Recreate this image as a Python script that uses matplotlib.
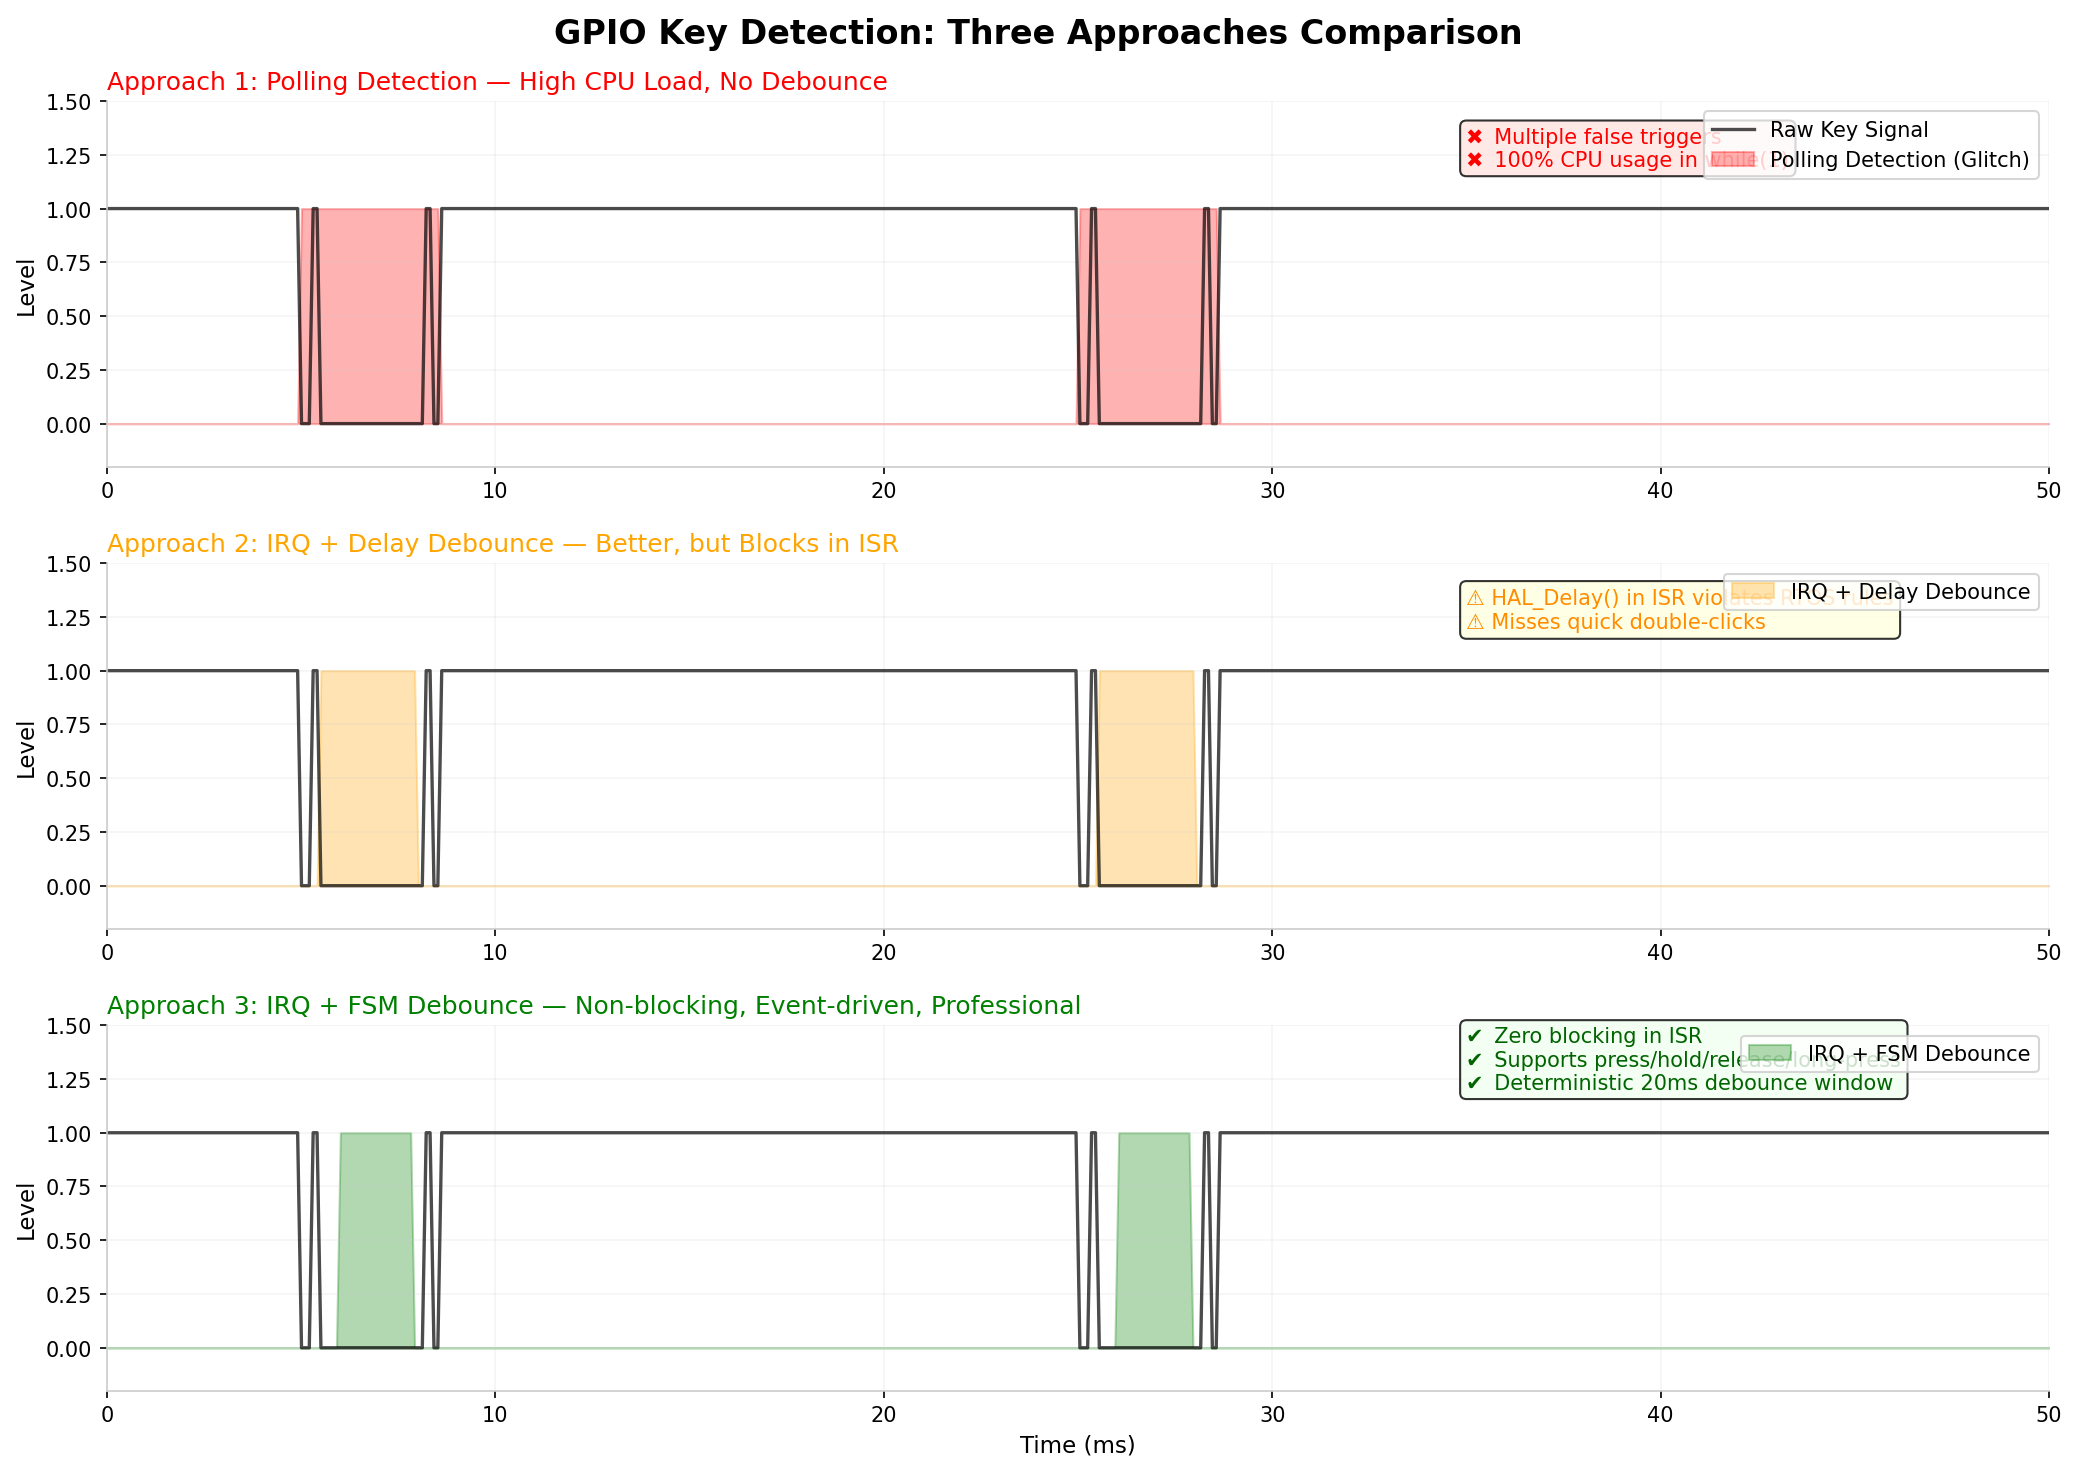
import matplotlib
matplotlib.use('Agg')
import matplotlib.pyplot as plt

# raw key waveform with contact bounce on press and release
time_raw = [0, 4.91, 5.01, 5.21, 5.31, 5.41, 5.51, 8.12, 8.22, 8.32, 8.42, 8.52, 8.62,
            24.95, 25.05, 25.25, 25.35, 25.45, 25.55, 28.16, 28.26, 28.36, 28.46, 28.56, 28.66, 50]
level_raw = [1, 1, 0, 0, 1, 1, 0, 0, 1, 1, 0, 0, 1,
             1, 0, 0, 1, 1, 0, 0, 1, 1, 0, 0, 1, 1]

time_polling = [0, 4.91, 5.01, 8.52, 8.62, 24.95, 25.05, 28.56, 28.66, 50]
level_polling = [0, 0, 1, 1, 0, 0, 1, 1, 0, 0]

time_delay = [0, 5.41, 5.51, 7.92, 8.02, 25.45, 25.55, 27.96, 28.06, 50]
level_delay = [0, 0, 1, 1, 0, 0, 1, 1, 0, 0]

time_fsm = [0, 5.91, 6.01, 7.82, 7.92, 25.95, 26.05, 27.86, 27.96, 50]
level_fsm = [0, 0, 1, 1, 0, 0, 1, 1, 0, 0]

titles = ['Approach 1: Polling Detection — High CPU Load, No Debounce',
          'Approach 2: IRQ + Delay Debounce — Better, but Blocks in ISR',
          'Approach 3: IRQ + FSM Debounce — Non-blocking, Event-driven, Professional']
title_colors = ['red', 'orange', 'green']
fill_labels = ['Polling Detection (Glitch)', 'IRQ + Delay Debounce', 'IRQ + FSM Debounce']
notes = ['✖\u2009 Multiple false triggers\n✖\u2009 100% CPU usage in while(1)',
         '⚠ HAL_Delay() in ISR violates RTOS rules\n⚠ Misses quick double-clicks',
         '✔\u2009 Zero blocking in ISR\n✔\u2009 Supports press/hold/release/long-press\n✔\u2009 Deterministic 20ms debounce window']
note_y = [1.28, 1.28, 1.34]
note_colors = ['red', 'darkorange', 'darkgreen']
note_faces = ['mistyrose', 'lightyellow', 'honeydew']
y_ticks = [0, 0.25, 0.5, 0.75, 1.0, 1.25, 1.5]

fills = [(time_polling, level_polling), (time_delay, level_delay), (time_fsm, level_fsm)]

fig, axes = plt.subplots(3, 1, figsize=(13.84, 9.813), dpi=150)
fig.subplots_adjust(left=0.0515, right=0.987, top=0.9307, bottom=0.0545, hspace=0.264)
fig.suptitle('GPIO Key Detection: Three Approaches Comparison', fontsize=16, fontweight='bold', y=0.988, va='top')

for i, ax in enumerate(axes):
    if i == 0:
        ax.plot(time_raw, level_raw, color='black', alpha=0.7, lw=1.6, label='Raw Key Signal')
    else:
        ax.plot(time_raw, level_raw, color='black', alpha=0.7, lw=1.6)
    ax.fill_between(fills[i][0], fills[i][1], color=title_colors[i], alpha=0.3, label=fill_labels[i])
    ax.set_xlim(0, 50)
    ax.set_ylim(-0.2, 1.5)
    ax.set_yticks(y_ticks)
    ax.set_ylabel('Level', fontsize=11)
    ax.set_title(titles[i], loc='left', color=title_colors[i], fontsize=12)
    ax.grid(True, alpha=0.2, lw=0.8, color='#cccccc')
    ax.spines['top'].set_visible(False)
    ax.spines['right'].set_visible(False)
    ax.spines['left'].set_color('#cccccc')
    ax.spines['bottom'].set_color('#cccccc')
    ax.text(35, note_y[i], notes[i], color=note_colors[i], fontsize=10, va='center',
            bbox=dict(boxstyle='round', facecolor=note_faces[i], alpha=0.8))
    ax.legend(loc='upper right', fontsize=10)

axes[2].set_xlabel('Time (ms)', fontsize=11)
fig.savefig('out.png', dpi=150)
